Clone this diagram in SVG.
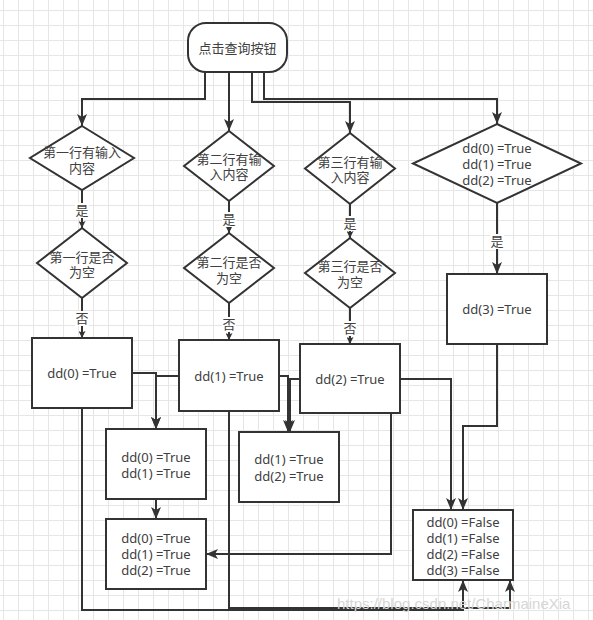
<svg xmlns="http://www.w3.org/2000/svg" width="593" height="620" viewBox="0 0 593 620">
<defs>
<pattern id="grid" patternUnits="userSpaceOnUse" x="3" y="10" width="15" height="15">
<path d="M0,0.5 H15 M0.5,0 V15" fill="none" stroke="#e6e6e6" stroke-width="1"/>
</pattern>
<marker id="arr" viewBox="0 0 12 10" refX="12" refY="5" markerWidth="12" markerHeight="10" markerUnits="userSpaceOnUse" orient="auto">
<path d="M0,0 L12,5 L0,10 L3,5 z" fill="#333"/>
</marker>
<marker id="sarr" viewBox="0 0 7 7" refX="7" refY="3.5" markerWidth="7" markerHeight="7" markerUnits="userSpaceOnUse" orient="auto">
<path d="M0,0 L7,3.5 L0,7 L1.5,3.5 z" fill="#333"/>
</marker>
</defs>
<style>
.node rect, .node polygon { fill: #fff; stroke: #333; stroke-width: 2; }
.t { font-family: "Noto Sans", "Noto Sans CJK SC", sans-serif; font-size: 13px; fill: #404040; text-anchor: middle; dominant-baseline: central; }
.edges path { fill: none; stroke: #333; stroke-width: 2; }
.big { marker-end: url(#arr); }
.sm { marker-end: url(#sarr); }
.lbl rect { fill: #fff; }
.wm { font-family: "Liberation Sans", Arial, sans-serif; font-size: 15px; fill: #d6d6d6; }
</style>
<rect width="593" height="620" fill="#fff"/>
<rect width="593" height="620" fill="url(#grid)"/>

<g class="edges">
<path class="big" d="M205,72 V99 H82 V126"/>
<path class="big" d="M229,72 V131"/>
<path class="big" d="M252,72 V102 H350 V133"/>
<path class="big" d="M264,72 V99 H497 V124"/>
<path class="sm" d="M82,190 V228"/>
<path class="sm" d="M229,201 V233"/>
<path class="sm" d="M350,204 V238"/>
<path class="big" d="M497,203 V274"/>
<path class="sm" d="M82,298 V338"/>
<path class="sm" d="M229,303 V340"/>
<path class="sm" d="M350,308 V344"/>
<path class="big" d="M132,373 H156 V429"/>
<path class="big" d="M179,376 H156 V429"/>
<path class="big" d="M279,376 H288 V432"/>
<path class="big" d="M300,379 H290 V432"/>
<path class="big" d="M400,379 H451 V510"/>
<path class="big" d="M497,344 V426 H463 V510"/>
<path class="big" d="M391,413 V554 H206"/>
<path class="big" d="M156,499 V519"/>
<path class="big" d="M82,408 V610 H463 V580"/>
<path class="big" d="M229,411 V608 H510 V580"/>
<g class="lbl">
<rect x="75" y="203" width="14" height="15"/><text class="t" x="82" y="210">是</text>
<rect x="222" y="212" width="14" height="15"/><text class="t" x="229" y="219">是</text>
<rect x="343" y="216" width="14" height="15"/><text class="t" x="350" y="223">是</text>
<rect x="490" y="234" width="14" height="15"/><text class="t" x="497" y="241">是</text>
<rect x="75" y="311" width="14" height="15"/><text class="t" x="82" y="318">否</text>
<rect x="222" y="317" width="14" height="15"/><text class="t" x="229" y="324">否</text>
<rect x="343" y="321" width="14" height="15"/><text class="t" x="350" y="328">否</text>
</g>
</g>

<g id="start" class="node">
<rect x="188" y="23" width="99" height="49" rx="18" ry="18"/>
<text class="t" x="237.5" y="48">点击查询按钮</text>
</g>
<g id="d1" class="node">
<polygon points="82,126 134,158 82,190 30,158"/>
<text class="t" x="82" y="152">第一行有输入</text>
<text class="t" x="82" y="168">内容</text>
</g>
<g id="d2" class="node">
<polygon points="229,131 274,166 229,201 184,166"/>
<text class="t" x="229" y="159">第二行有输</text>
<text class="t" x="229" y="174">入内容</text>
</g>
<g id="d3" class="node">
<polygon points="350,133 395,168.5 350,204 305,168.5"/>
<text class="t" x="350" y="162">第三行有输</text>
<text class="t" x="350" y="177">入内容</text>
</g>
<g id="d4" class="node">
<polygon points="497,124 581,163.5 497,203 413,163.5"/>
<text class="t" x="497" y="148">dd(0) =True</text>
<text class="t" x="497" y="164">dd(1) =True</text>
<text class="t" x="497" y="180">dd(2) =True</text>
</g>
<g id="d1b" class="node">
<polygon points="82,228 127,263 82,298 37,263"/>
<text class="t" x="82" y="257">第一行是否</text>
<text class="t" x="82" y="272">为空</text>
</g>
<g id="d2b" class="node">
<polygon points="229,233 274,268 229,303 184,268"/>
<text class="t" x="229" y="262">第二行是否</text>
<text class="t" x="229" y="278">为空</text>
</g>
<g id="d3b" class="node">
<polygon points="350,238 395,273 350,308 305,273"/>
<text class="t" x="350" y="266">第三行是否</text>
<text class="t" x="350" y="282">为空</text>
</g>
<g id="r0" class="node">
<rect x="32" y="338" width="100" height="70"/>
<text class="t" x="82" y="373">dd(0) =True</text>
</g>
<g id="r1" class="node">
<rect x="179" y="340" width="100" height="71"/>
<text class="t" x="229" y="376">dd(1) =True</text>
</g>
<g id="r2" class="node">
<rect x="300" y="344" width="100" height="69"/>
<text class="t" x="350" y="379">dd(2) =True</text>
</g>
<g id="r3" class="node">
<rect x="447" y="274" width="100" height="70"/>
<text class="t" x="497" y="309">dd(3) =True</text>
</g>
<g id="b01" class="node">
<rect x="106" y="429" width="100" height="70"/>
<text class="t" x="156" y="457">dd(0) =True</text>
<text class="t" x="156" y="473">dd(1) =True</text>
</g>
<g id="b012" class="node">
<rect x="106" y="519" width="100" height="70"/>
<text class="t" x="156" y="538">dd(0) =True</text>
<text class="t" x="156" y="554">dd(1) =True</text>
<text class="t" x="156" y="570">dd(2) =True</text>
</g>
<g id="b12" class="node">
<rect x="239" y="432" width="100" height="70"/>
<text class="t" x="289" y="459">dd(1) =True</text>
<text class="t" x="289" y="476">dd(2) =True</text>
</g>
<g id="bf" class="node">
<rect x="413" y="510" width="100" height="70"/>
<text class="t" x="463" y="522">dd(0) =False</text>
<text class="t" x="463" y="538">dd(1) =False</text>
<text class="t" x="463" y="554">dd(2) =False</text>
<text class="t" x="463" y="570">dd(3) =False</text>
</g>
<text class="wm" x="337" y="609">https://blog.csdn.net/CharmaineXia</text>
</svg>
